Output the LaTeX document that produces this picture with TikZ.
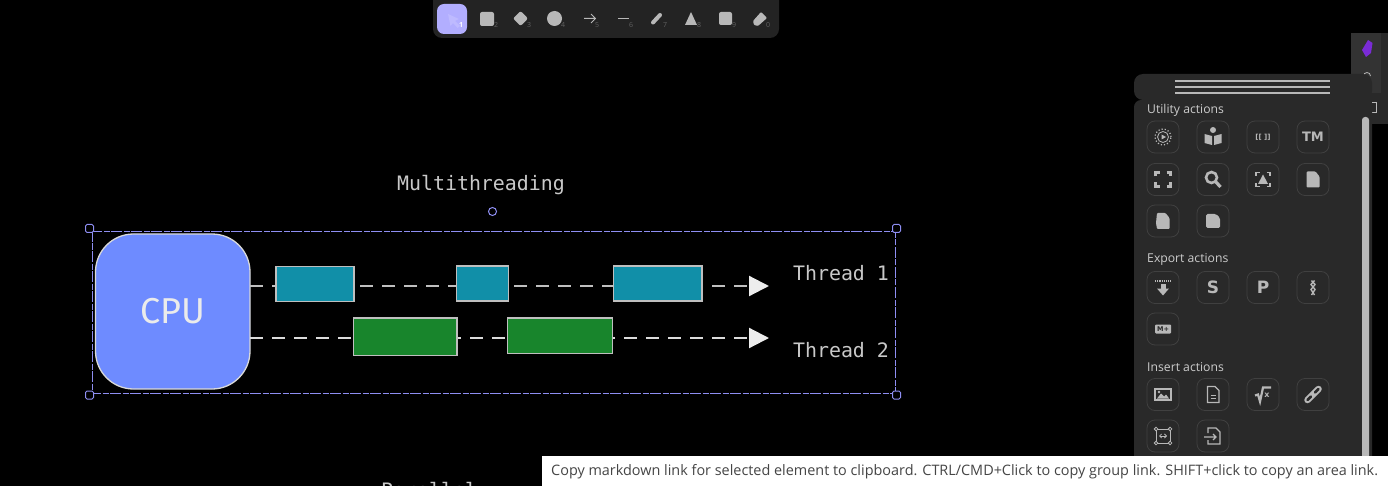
\documentclass[tikz,border=0pt]{standalone}
\usepackage{fontspec}
\setmainfont{Open Sans}
\setmonofont{DejaVu Sans Mono}
\newfontfamily\cpufont{Fira Sans}
\newfontfamily\iconfont{DejaVu Sans}
\usetikzlibrary{arrows.meta,calc}
\definecolor{selc}{HTML}{8E8EF2}
\definecolor{panelc}{HTML}{292929}
\definecolor{barc}{HTML}{232323}
\definecolor{iconc}{HTML}{B8B8B8}
\definecolor{tealc}{HTML}{118FA8}
\definecolor{greenc}{HTML}{18852C}
\definecolor{cpuc}{HTML}{6E8BFF}
\definecolor{activec}{HTML}{B2AEFF}
\definecolor{cursorc}{HTML}{BEBAFF}
\definecolor{tipc}{HTML}{EDEDED}
\definecolor{gemc}{HTML}{7A2BD6}
\tikzset{
  x=1pt,y=-1pt,
  cpubox/.style={draw=white!85!black,line width=1.3pt,fill=cpuc,rectangle,rounded corners=38pt,inner sep=0,outer sep=0,minimum width=154.5pt,minimum height=155pt,text=white!92!black,font=\cpufont\fontsize{36}{36}\selectfont},
  tealbox/.style={draw=white!75!black,line width=1.3pt,fill=tealc,inner sep=0,outer sep=0,minimum height=35pt},
  greenbox/.style={draw=white!75!black,line width=1.3pt,fill=greenc,inner sep=0,outer sep=0},
  monotext/.style={text=white!79!black,inner sep=0,font=\ttfamily\fontsize{19.9}{20}\selectfont},
  threadone/.style={dash pattern=on 12.5pt off 9.5pt,line width=2.2pt,draw=white!75!black,-{Triangle[length=20pt,width=20pt,color=tipc]}},
  threadtwo/.style={threadone,draw=white!86!black},
  selbox/.style={draw=selc,line width=0.9pt,dash pattern=on 11pt off 1.5pt on 6pt off 1.5pt},
  selhandle/.style={draw=selc,line width=1pt,fill=black,rounded corners=1.5pt,minimum size=8pt,inner sep=0},
  rothandle/.style={draw=selc,line width=1pt,fill=black,circle,minimum size=8pt,inner sep=0},
  toolbtn/.style={draw=white!25!black,line width=0.8pt,fill=panelc,rounded corners=8pt,minimum size=32pt,inner sep=0},
  seclabel/.style={text=white!80!black,inner sep=0,anchor=west,font=\fontsize{12.2}{13}\selectfont},
  iconfill/.style={fill=iconc,draw=none},
  iconline/.style={draw=iconc,line width=1.3pt,fill=none},
  icontext/.style={text=iconc,inner sep=0,font=\iconfont\bfseries\fontsize{13}{13}\selectfont},
  bigglyph/.style={text=iconc,inner sep=0,font=\iconfont\bfseries\fontsize{17}{17}\selectfont},
  keynum/.style={text=white!38!black,inner sep=0,font=\fontsize{7}{7}\selectfont},
}
\begin{document}
\begin{tikzpicture}
\useasboundingbox (0,0) rectangle (1388,486);
\clip (0,0) rectangle (1388,486);
\fill[black] (0,0) rectangle (1388,486);

% title and cut-off text
\node[monotext] (title) at (481,185.5) {Multithreading};
\node[monotext,anchor=base west] (par) at (381,497) {Parallel};

% connector ends
\coordinate (t1) at (769,286);
\coordinate (t2) at (769,338);

% CPU
\node[cpubox] (cpu) at (172.75,311.5) {CPU};

% thread lines
\draw[threadone] (cpu.east |- t1) -- (t1);
\draw[threadtwo] (cpu.east |- t2) -- (t2);

% thread boxes
\node[tealbox,minimum width=78pt] (a1) at (315,284) {};
\node[tealbox,minimum width=52pt] (a2) at (482.5,283.5) {};
\node[tealbox,minimum width=88.5pt] (a3) at (657.75,283.5) {};
\node[greenbox,minimum width=103.5pt,minimum height=37.5pt] (b1) at (405.25,336.75) {};
\node[greenbox,minimum width=105pt,minimum height=35.5pt] (b2) at (560,335.75) {};

\node[monotext] (l1) at (841,273) {Thread 1};
\node[monotext] (l2) at (841,350) {Thread 2};

% selection
\draw[selbox] (92,231) rectangle (895,393);
\node[selhandle] (h1) at (89.5,228.5) {};
\node[selhandle] (h2) at (89.5,395) {};
\node[selhandle] (h3) at (896.5,228.5) {};
\node[selhandle] (h4) at (896.5,395) {};
\node[rothandle] (h5) at (492.5,211.5) {};

% top toolbar
\fill[barc,rounded corners=9pt] (433,-10) rectangle (779,38);
\fill[activec,rounded corners=7pt] (437,4) rectangle (467,34);
\fill[cursorc] (448,14) -- (459,19) -- (455,21) -- (460,26) -- (457.5,28) -- (453,23) -- (450.5,26) -- cycle;
\node[text=white,inner sep=0,font=\bfseries\fontsize{7}{7}\selectfont] (k1) at (461,25) {1};
\fill[iconfill,rounded corners=2pt] (480,12) rectangle (494,26);
\fill[iconfill,rounded corners=2pt] (520.5,11) -- (528,18.5) -- (520.5,26) -- (513,18.5) -- cycle;
\fill[iconfill] (554.5,18.5) circle[radius=7.5pt];
\draw[iconline,line width=1pt] (584,18.5) -- (595,18.5) (591,14) -- (595.5,18.5) -- (591,23);
\draw[iconline,line width=1.2pt] (618,18.5) -- (629,18.5);
\draw[iconline,line width=4pt,line cap=round] (653,22.5) -- (660,15);
\fill[iconfill] (691,12) -- (697,25) -- (685,25) -- cycle;
\fill[iconfill,rounded corners=2pt] (719,12) rectangle (732,25);
\fill[iconfill,rounded corners=1pt] (761,12) -- (767,18) -- (758,26) -- (754,25) -- (753,21) -- cycle;
\foreach \nm/\x/\n in {k2/496/2,k3/529/3,k4/563/4,k5/597/5,k6/631/6,k7/665/7,k8/699/8,k9/734/9,k0/768/0}{
  \node[keynum] (\nm) at (\x,25) {\n};
}

% side strip behind the panel
\fill[panelc] (1351,93) rectangle (1388,124);
\fill[panelc] (1381,33) rectangle (1388,124);
\fill[white!20!black] (1351,33) rectangle (1381,93);
\fill[gemc] (1368,40) -- (1372.5,43) -- (1371,53) -- (1366,57) -- (1362,50) -- cycle;
\draw[iconc,line width=0.8pt] (1363.5,76) arc[start angle=180,end angle=0,radius=3.5pt];
\draw[iconc,line width=1pt] (1372,103) -- (1376,103) -- (1376,113) -- (1372,113);

% utility panel
\fill[panelc,rounded corners=9pt] (1134,74) rectangle (1372,100);
\fill[panelc,rounded corners=7pt] (1134,100) rectangle (1372,500);
\foreach \y in {81,87.5,93.5}{ \draw[draw=iconc,line width=2pt] (1175,\y) -- (1330,\y); }
\fill[iconc,rounded corners=3pt] (1362,117) rectangle (1369,470);

\node[seclabel] (s1) at (1147,110.5) {Utility actions};
\node[seclabel] (s2) at (1147,259.5) {Export actions};
\node[seclabel] (s3) at (1147,367.5) {Insert actions};

\foreach \nm/\x/\y in {u1/1163/137,u2/1213/137,u3/1263/137,u4/1313/137,u5/1163/179.5,u6/1213/179.5,u7/1263/179.5,u8/1313/179.5,u9/1163/221,u10/1213/221,e1/1163/287.5,e2/1213/287.5,e3/1263/287.5,e4/1313/287.5,e5/1163/329,i1/1163/394.5,i2/1213/394.5,i3/1263/394.5,i4/1313/394.5,i5/1163/436,i6/1213/436}{
  \node[toolbtn] (\nm) at (\x,\y) {};
}

% utility icons
\draw[iconline,line width=1.2pt,dotted] (u1) circle[radius=8pt];
\draw[iconline,line width=0.8pt] (u1) circle[radius=5.5pt];
\fill[iconfill] ($(u1)+(-1.5,-2.5)$) -- ($(u1)+(3,0)$) -- ($(u1)+(-1.5,2.5)$) -- cycle;
\fill[iconfill] ($(u2)+(0,-7)$) circle[radius=3pt];
\fill[iconfill] ($(u2)+(-8.5,-3)$) -- ($(u2)+(-1,-1)$) -- ($(u2)+(-1,8)$) -- ($(u2)+(-8.5,6)$) -- cycle;
\fill[iconfill] ($(u2)+(8.5,-3)$) -- ($(u2)+(1,-1)$) -- ($(u2)+(1,8)$) -- ($(u2)+(8.5,6)$) -- cycle;
\node[text=iconc,inner sep=0,font=\iconfont\bfseries\fontsize{7}{7}\selectfont] (u3t) at (u3) {[[ ]]};
\node[icontext] (u4t) at (u4) {TM};
\draw[iconline,line width=2.6pt]
  ($(u5)+(-7.5,-3)$) -- ($(u5)+(-7.5,-7)$) -- ($(u5)+(-3.5,-7)$)
  ($(u5)+(3.5,-7)$) -- ($(u5)+(7.5,-7)$) -- ($(u5)+(7.5,-3)$)
  ($(u5)+(7.5,3)$) -- ($(u5)+(7.5,7)$) -- ($(u5)+(3.5,7)$)
  ($(u5)+(-3.5,7)$) -- ($(u5)+(-7.5,7)$) -- ($(u5)+(-7.5,3)$);
\draw[iconline,line width=2.6pt] ($(u6)+(-1.5,-2)$) circle[radius=5.5pt];
\draw[iconline,line width=3.2pt] ($(u6)+(2.5,2)$) -- ($(u6)+(7.5,7.5)$);
\draw[iconline,line width=1.4pt]
  ($(u7)+(-7,-3.5)$) -- ($(u7)+(-7,-7)$) -- ($(u7)+(-3.5,-7)$)
  ($(u7)+(3.5,-7)$) -- ($(u7)+(7,-7)$) -- ($(u7)+(7,-3.5)$)
  ($(u7)+(7,3.5)$) -- ($(u7)+(7,7)$) -- ($(u7)+(3.5,7)$)
  ($(u7)+(-3.5,7)$) -- ($(u7)+(-7,7)$) -- ($(u7)+(-7,3.5)$);
\fill[iconfill] ($(u7)+(0,-5)$) -- ($(u7)+(5,4.5)$) -- ($(u7)+(-5,4.5)$) -- cycle;
\fill[iconfill,rounded corners=1pt] ($(u8)+(-6.5,-8)$) -- ($(u8)+(2.5,-8)$) -- ($(u8)+(6.5,-3)$) -- ($(u8)+(6.5,8)$) -- ($(u8)+(-6.5,8)$) -- cycle;
\fill[iconfill,rounded corners=1pt] ($(u9)+(-6,-8)$) -- ($(u9)+(2.5,-8)$) -- ($(u9)+(6.5,-3)$) -- ($(u9)+(6.5,8)$) -- ($(u9)+(-6,8)$) -- ($(u9)+(-7,2)$) -- cycle;
\fill[iconfill,rounded corners=1.5pt] ($(u10)+(-7,-7)$) -- ($(u10)+(3,-7)$) -- ($(u10)+(7,-3)$) -- ($(u10)+(7,7)$) -- ($(u10)+(-7,7)$) -- cycle;

% export icons
\draw[iconline,line width=1.2pt,densely dotted] ($(e1)+(-8,-6.5)$) -- ($(e1)+(8,-6.5)$);
\fill[iconfill] ($(e1)+(-2.5,-4)$) rectangle ($(e1)+(2.5,1)$);
\fill[iconfill] ($(e1)+(-6,1)$) -- ($(e1)+(6,1)$) -- ($(e1)+(0,8)$) -- cycle;
\node[bigglyph] (e2t) at (e2) {S};
\node[bigglyph] (e3t) at (e3) {P};
\draw[iconline,line width=1.4pt] ($(e4)+(-1.5,-7)$) -- ($(e4)+(2,-3)$) -- ($(e4)+(-2,2)$) -- ($(e4)+(1.5,7.5)$)
  ($(e4)+(1.5,-7)$) -- ($(e4)+(-2,-3)$) -- ($(e4)+(2,2)$) -- ($(e4)+(-1.5,7.5)$);
\fill[iconfill,rounded corners=1pt] ($(e5)+(-8,-4.5)$) rectangle ($(e5)+(8,4.5)$);
\node[text=panelc,inner sep=0,font=\iconfont\bfseries\fontsize{6.5}{7}\selectfont] (e5t) at (e5) {M+};

% insert icons
\draw[iconline,line width=1.3pt] ($(i1)+(-8,-5.5)$) rectangle ($(i1)+(8,5.5)$);
\fill[iconfill] ($(i1)+(-6,4)$) -- ($(i1)+(-2,-1)$) -- ($(i1)+(1,2)$) -- ($(i1)+(3,0)$) -- ($(i1)+(6,4)$) -- cycle;
\fill[iconfill] ($(i1)+(-4,-2.5)$) circle[radius=1.3pt];
\draw[iconline,line width=1.2pt] ($(i2)+(-5.5,-8)$) -- ($(i2)+(2,-8)$) -- ($(i2)+(6,-4)$) -- ($(i2)+(6,8)$) -- ($(i2)+(-5.5,8)$) -- cycle;
\draw[iconline,line width=1.2pt] ($(i2)+(-2.5,1)$) -- ($(i2)+(3,1)$) ($(i2)+(-2.5,4)$) -- ($(i2)+(3,4)$);
\draw[iconline,line width=2.2pt] ($(i3)+(-8,1)$) -- ($(i3)+(-5,0)$) -- ($(i3)+(-3,7)$) -- ($(i3)+(0,-7)$) -- ($(i3)+(8,-7)$);
\node[text=iconc,inner sep=0,font=\iconfont\bfseries\fontsize{8}{8}\selectfont] (i3t) at ($(i3)+(4,1)$) {x};
\draw[iconline,line width=6.5pt,line cap=round] ($(i4)+(-5.5,5.5)$) -- ($(i4)+(5.5,-5.5)$);
\draw[draw=panelc,line width=2.6pt,line cap=round] ($(i4)+(-5.5,5.5)$) -- ($(i4)+(-2,2)$) ($(i4)+(2,-2)$) -- ($(i4)+(5.5,-5.5)$);
\draw[iconline,line width=0.9pt] ($(i5)+(-7,-7)$) rectangle ($(i5)+(7,7)$);
\foreach \dx/\dy in {-7/-7,7/-7,-7/7,7/7}{
  \filldraw[draw=iconc,fill=panelc,line width=0.8pt] ($(i5)+(\dx,\dy)$) circle[radius=1.8pt];
}
\draw[iconline,line width=0.8pt,{Straight Barb[length=2pt,width=4pt]}-{Straight Barb[length=2pt,width=4pt]}] ($(i5)+(-4,0)$) -- ($(i5)+(4,0)$);
\draw[iconline,line width=1.1pt] ($(i6)+(-5,-3)$) -- ($(i6)+(-5,-8)$) -- ($(i6)+(3,-8)$) -- ($(i6)+(7,-4)$) -- ($(i6)+(7,8)$) -- ($(i6)+(-5,8)$) -- ($(i6)+(-5,4)$);
\draw[iconline,line width=1.2pt] ($(i6)+(-9,1)$) -- ($(i6)+(3,1)$) ($(i6)+(0,-2)$) -- ($(i6)+(3,1)$) -- ($(i6)+(0,4)$);

% tooltip
\fill[white] (542,456) rectangle (1388,486);
\node[text=white!27!black,inner sep=0,anchor=west,font=\fontsize{14.41}{15}\selectfont] (tip) at (551,472) {Copy markdown link for selected element to clipboard. CTRL/CMD+Click to copy group link. SHIFT+click to copy an area link.};
\end{tikzpicture}
\end{document}
